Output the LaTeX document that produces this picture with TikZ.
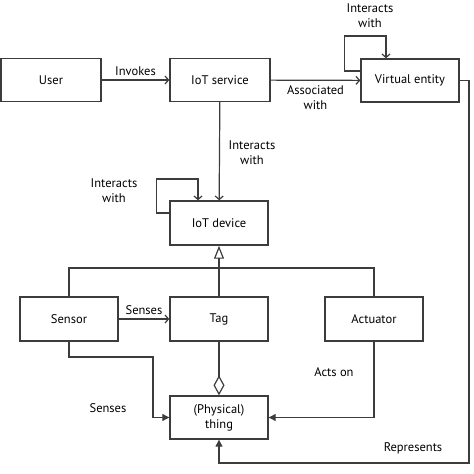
\documentclass[tikz,border=0pt]{standalone}
\usepackage{fontspec}
\setmainfont{PT Sans}
\usetikzlibrary{arrows.meta,positioning}
\definecolor{linegray}{HTML}{3C3C3C}
\tikzset{
  box/.style={rectangle,draw=linegray,line width=1.4pt,minimum width=98pt,minimum height=43pt,align=center,font=\fontsize{12.5}{15}\selectfont},
  lbl/.style={align=center,font=\fontsize{12.5}{15}\selectfont},
  link/.style={draw=linegray,line width=1.2pt},
  opento/.style={link,-{Straight Barb[length=3.5pt,width=8pt]}},
  fillto/.style={link,-{Triangle[length=7pt,width=7pt]}},
}
\begin{document}
\begin{tikzpicture}[x=1pt,y=-1pt]
\useasboundingbox (0,0) rectangle (474,474);
% \draw[help lines] (0,0) grid (474,474);
\node (user) [box,minimum width=100pt] at (51,80) {User};
\node (service) [box,minimum width=100pt] at (220,80) {IoT service};
\node (entity) [box] at (410,80.5) {Virtual entity};
\node (device) [box,minimum height=44pt] at (219,223) {IoT device};
\node (sensor) [box,minimum height=44pt] at (69,319) {Sensor};
\node (tag) [box,minimum height=44pt] at (219,319) {Tag};
\node (actuator) [box,minimum height=44pt] at (374,319) {Actuator};
\node (thing) [box] at (219,417.5) {(Physical)\\thing};
%
\coordinate (bar) at (219,268);
\coordinate (sbend) at (153,357);
\coordinate (rep) at (469,463);
%
{\path[opento](user) edge node[lbl,above] {Invokes} (service);}
{\path[opento](service) edge node[lbl,below,yshift=-1pt] {Associated\\with} (entity);}
{\path[opento](service) edge (device);}
\node (svclbl) [lbl] at (252,153) {Interacts\\with};
%
{\draw[opento]([yshift=9.5pt]entity.west) -- ++(-16,0) -- ++(0,-35) -| ([xshift=-24pt]entity.north);}
\node (entlbl) [lbl] at (370,16) {Interacts\\with};
{\draw[opento]([yshift=10pt]device.west) -- ++(-13,0) -- ++(0,-34) -| ([xshift=-21pt]device.north);}
\node (devlbl) [lbl] at (114,191) {Interacts\\with};
%
{\path[link,-{Triangle[open,length=13pt,width=10pt]}](tag) edge (device);}
{\draw[link](sensor) |- (bar) -| (actuator);}
{\path[opento](sensor) edge node[lbl,above] {Senses} (tag);}
{\path[link,{Diamond[open,length=20pt,width=11pt]}-](thing) edge (tag);}
%
{\draw[fillto](sensor) |- (sbend) |- (thing);}
\node (senslbl) [lbl] at (108,408) {Senses};
{\draw[fillto](actuator) |- (thing);}
\node (actlbl) [lbl] at (334,372) {Acts on};
{\draw[fillto](entity.east) -| (rep) -| (thing.south);}
\node (replbl) [lbl] at (413,448) {Represents};
\end{tikzpicture}
\end{document}
